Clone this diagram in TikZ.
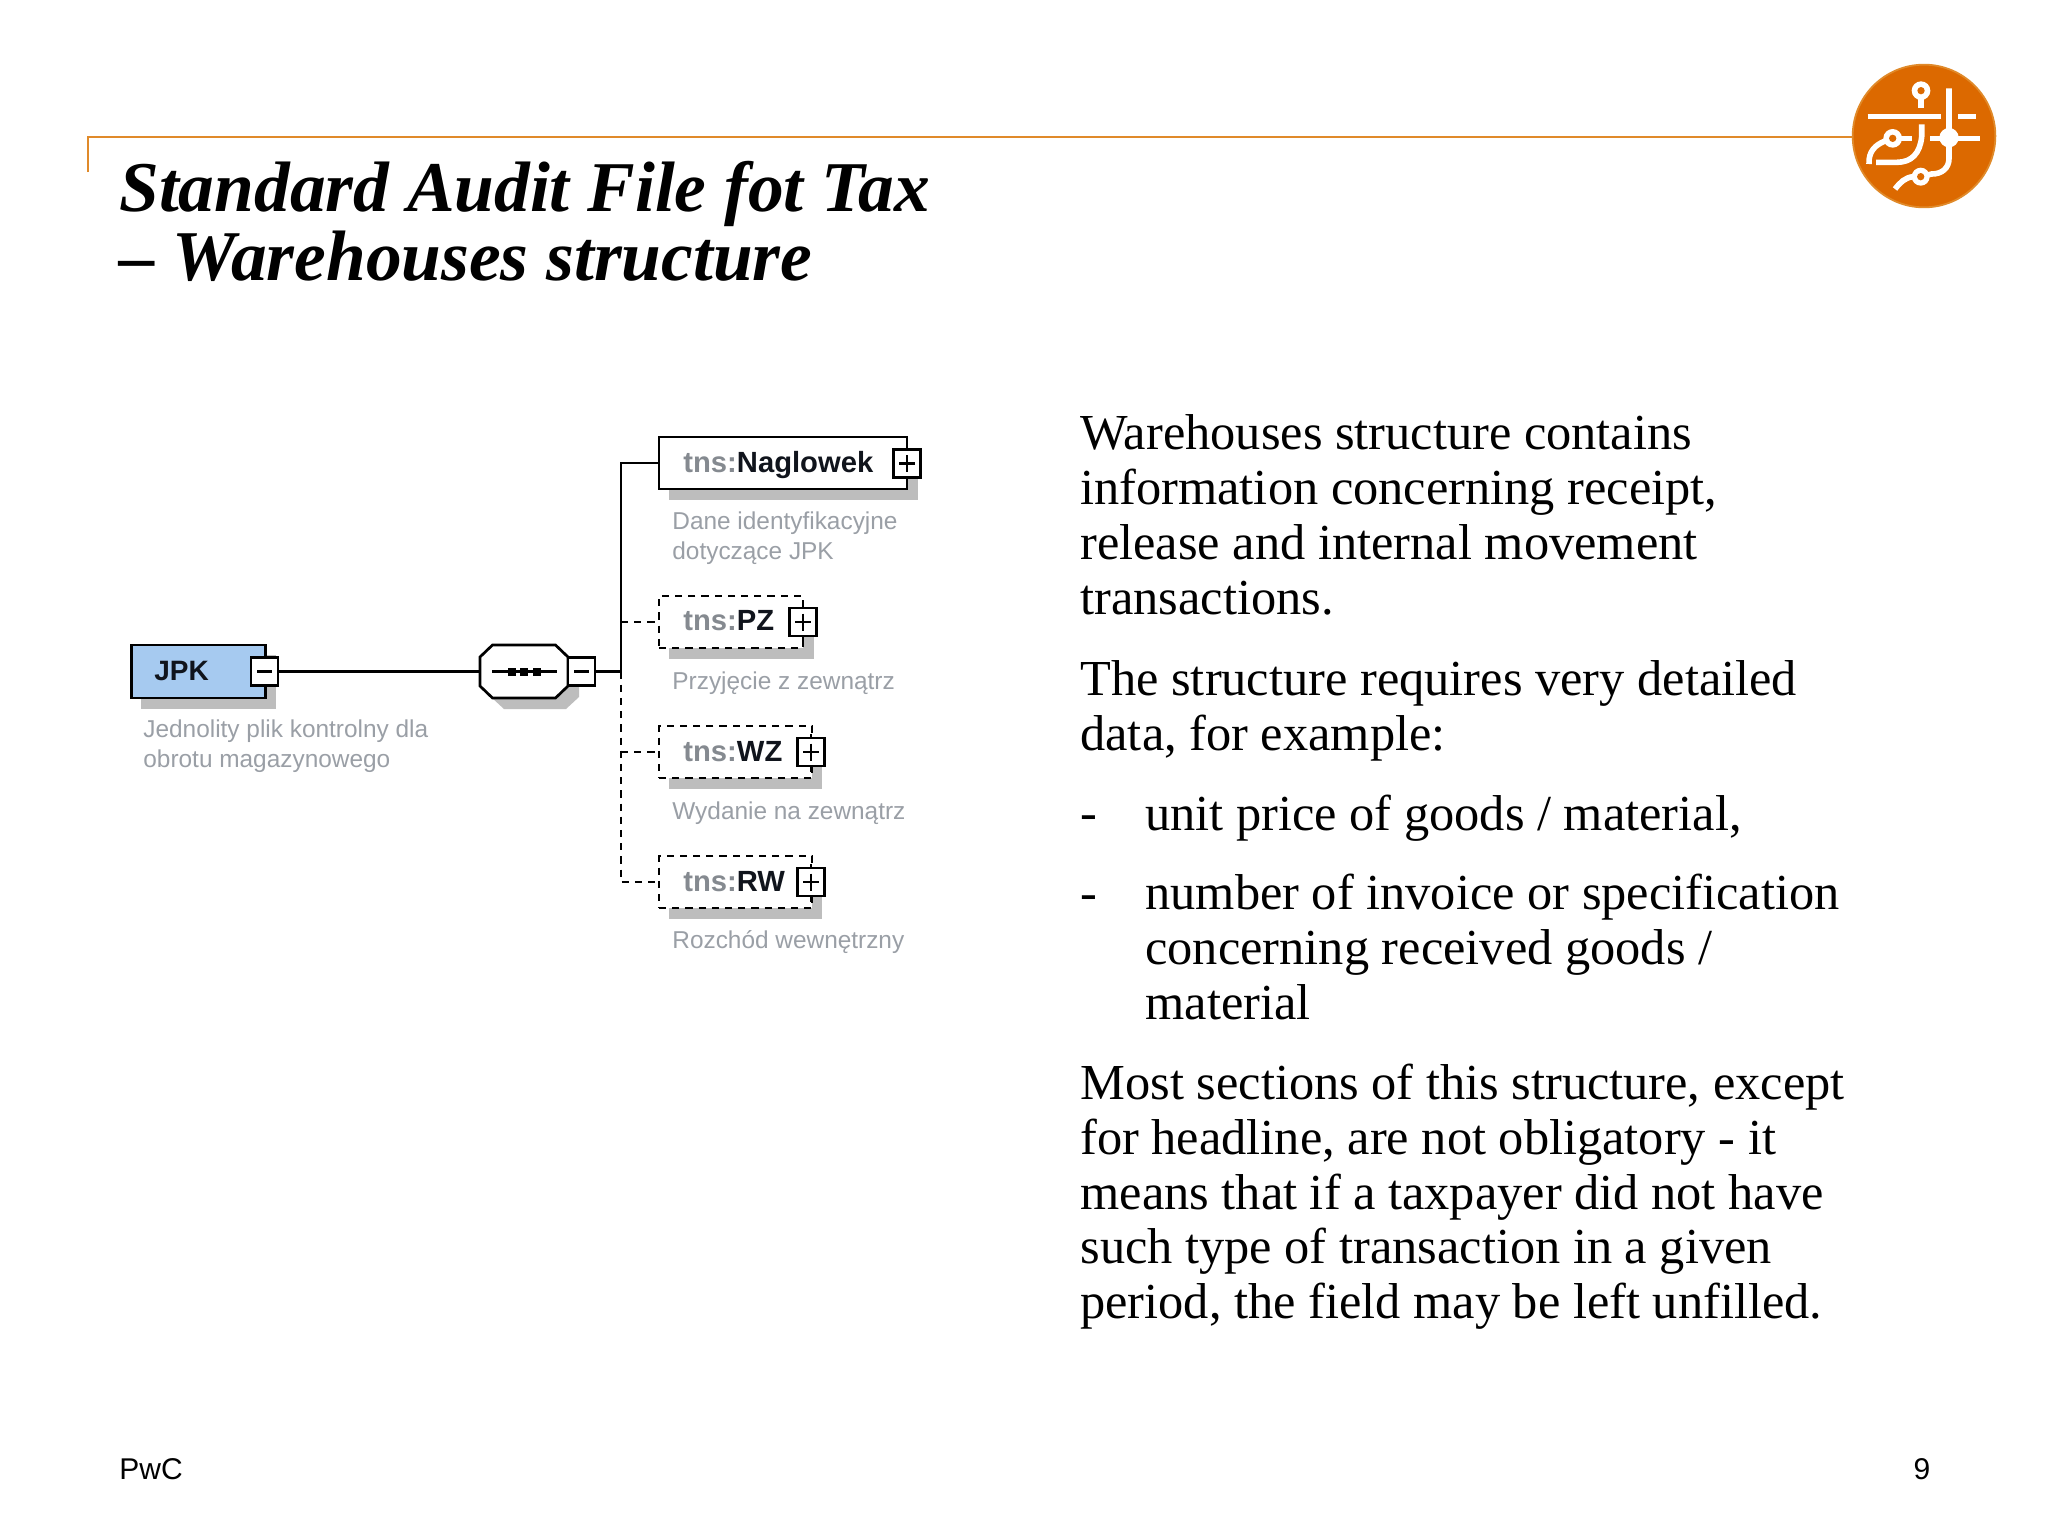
\documentclass[tikz,border=0pt]{standalone}
\usepackage{fontspec}
\setmainfont{Liberation Serif}
\newfontfamily\sansf{Liberation Sans}
\definecolor{pwcorange}{HTML}{DC6900}
\definecolor{ruleorange}{HTML}{E08A2A}
\definecolor{shadowgray}{HTML}{BDBDBD}
\definecolor{descgray}{HTML}{9A9FA6}
\definecolor{prefixgray}{HTML}{858A90}
\definecolor{namedark}{HTML}{10141C}
\definecolor{jpkblue}{HTML}{A6CAF0}
\tikzset{
  x=0.5pt,y=-0.5pt,
  elsolid/.style={draw=black,fill=white,line width=1.35pt,rectangle,inner sep=0pt,outer sep=0pt},
  eldash/.style={draw=black,fill=white,line width=1.35pt,dash pattern=on 3.6pt off 3pt,rectangle,inner sep=0pt,outer sep=0pt},
  togglebox/.style={draw=black,fill=white,line width=1.2pt,rectangle,minimum width=13.5pt,minimum height=14pt,inner sep=0pt,outer sep=0pt},
  conn/.style={draw=black,line width=1.3pt},
  conndash/.style={draw=black,line width=1.3pt,dash pattern=on 3.6pt off 3pt},
  togglemark/.style={draw=black,line width=1.05pt},
  elname/.style={font=\sansf\fontsize{14.6}{16}\selectfont\bfseries,color=namedark,inner sep=0pt,anchor=west},
  desc/.style={font=\sansf\fontsize{12.2}{15}\selectfont,color=descgray,inner sep=0pt,anchor=north west,align=left},
  bodytext/.style={font=\fontsize{25.2}{27.4}\selectfont,color=black,inner sep=0pt,anchor=north west,align=left},
  titletext/.style={font=\fontsize{35.7}{34.6}\selectfont\bfseries\itshape,color=black,inner sep=0pt,anchor=north west,align=left},
  foot/.style={font=\sansf\fontsize{15}{18}\selectfont,color=black,inner sep=0pt},
  logoline/.style={draw=white,line width=2.8pt},
}
\begin{document}
\begin{tikzpicture}
\useasboundingbox (0,0) rectangle (2048,1536);
\fill[white] (0,0) rectangle (2048,1536);

% header rule
\coordinate (ruleend) at (88,172);
\coordinate (rulecorner) at (88,137);
\coordinate (rulelogo) at (1860,137);
\draw[ruleorange,line width=1.1pt] (ruleend) -- (rulecorner) -- (rulelogo);

% title
\node[titletext] (title) at (119,161) {Standard Audit File fot Tax\\– Warehouses structure};

% logo
\begin{scope}[shift={(1800,40)},x=0.16667pt,y=-0.16667pt]
  \filldraw[fill=pwcorange,draw=ruleorange,line width=0.9pt] (372,288) circle[radius=214];
  \draw[logoline] (363,152) -- (363,205);
  \fill[white] (363,152) circle[radius=28];
  \fill[pwcorange] (363,152) circle[radius=11];
  \draw[logoline] (203,230) -- (422,230);
  \draw[logoline] (475,230) -- (527,230);
  \draw[logoline] (447,145) -- (447,355) .. controls (447,385) and (425,402) .. (395,402) -- (362,410);
  \draw[logoline] (390,295) -- (540,295);
  \fill[white] (447,293) circle[radius=29];
  \fill[white] (362,410) circle[radius=27];
  \fill[pwcorange] (362,410) circle[radius=11];
  \draw[logoline] (340,410) .. controls (315,412) and (300,428) .. (285,447);
  \draw[logoline] (278,295) -- (337,295);
  \fill[white] (278,295) circle[radius=28];
  \fill[pwcorange] (278,295) circle[radius=11];
  \draw[logoline] (255,303) .. controls (225,315) and (205,335) .. (207,372);
  \draw[logoline] (365,253) -- (365,290) .. controls (360,340) and (335,367) .. (290,367) -- (228,367);
\end{scope}

% JPK
\fill[shadowgray] (141,655) rectangle (276,709);
\node[elsolid,fill=jpkblue,minimum width=67pt,minimum height=26.5pt] (jpk) at (198.5,671.5) {};
\node[font=\sansf\fontsize{14}{16}\selectfont\bfseries,color=namedark,inner sep=0pt,anchor=west] (jpklabel) at (154,671) {JPK};
\node[togglebox] (jpkt) at (264.5,671.5) {};
\draw[togglemark] (257,671.5) -- (272,671.5);
\node[desc] (jpkd) at (143,719) {Jednolity plik kontrolny dla\\obrotu magazynowego};

% sequence
\fill[shadowgray] (504,656) -- (566,656) -- (579,668) -- (579,697) -- (566,709) -- (504,709) -- (491,697) -- (491,668) -- cycle;
\node[rectangle,inner sep=0pt,outer sep=0pt,minimum width=44pt,minimum height=26.5pt] (seq) at (524,671.5) {};
\draw[elsolid] (492.5,645) -- (555.5,645) -- (568,657) -- (568,686) -- (555.5,698) -- (492.5,698) -- (480,686) -- (480,657) -- cycle;
\coordinate (seql) at (492,671.5);
\coordinate (seqr) at (557,671.5);
\draw[togglemark] (seql) -- (seqr);
\foreach \mx in {512,524,537}{
  \fill[black] (\mx-4,667.5) rectangle (\mx+4,675.5);
}
\node[togglebox] (seqt) at (581.5,671.5) {};
\draw[togglemark] (574,671.5) -- (589,671.5);
\draw[conn] (jpkt.east) -- (seq.west);
\coordinate (trunk) at (621,671.5);
\draw[conn] (seqt.east) -- (trunk);

% Naglowek
\fill[shadowgray] (669,448) rectangle (918,500);
\node[elsolid,minimum width=124pt,minimum height=26pt] (nag) at (783,463) {};
\node[togglebox] (nagt) at (907,463.5) {};
\draw[togglemark] (899,463.5) -- (915,463.5);
\draw[togglemark] (907,455) -- (907,472);
\node[elname] (nagl) at (683,465) {\textcolor{prefixgray}{tns:}Naglowek};
\node[desc] (nagd) at (672,511) {Dane identyfikacyjne\\dotyczące JPK};

% PZ
\fill[shadowgray] (669,607) rectangle (814,659);
\node[eldash,minimum width=72pt,minimum height=26pt] (pz) at (731,622) {};
\node[togglebox] (pzt) at (803,622) {};
\draw[togglemark] (795,622) -- (811,622);
\draw[togglemark] (803,613.5) -- (803,630.5);
\draw[black,line width=1.2pt] (803,604) -- (803,608) (803,636) -- (803,642);
\node[elname] (pzl) at (683,621) {\textcolor{prefixgray}{tns:}PZ};
\node[desc] (pzd) at (672,671) {Przyjęcie z zewnątrz};

% WZ
\fill[shadowgray] (669,737) rectangle (822,789);
\node[eldash,minimum width=76.5pt,minimum height=26pt] (wz) at (735.5,752) {};
\node[togglebox] (wzt) at (811,752) {};
\draw[togglemark] (803,752) -- (819,752);
\draw[togglemark] (811,743.5) -- (811,760.5);
\draw[black,line width=1.2pt] (811,734) -- (811,738) (811,766) -- (811,772);
\node[elname] (wzl) at (683,752) {\textcolor{prefixgray}{tns:}WZ};
\node[desc] (wzd) at (672,801) {Wydanie na zewnątrz};

% RW
\fill[shadowgray] (669,867) rectangle (822,919);
\node[eldash,minimum width=76.5pt,minimum height=26pt] (rw) at (735.5,882) {};
\node[togglebox] (rwt) at (811,882) {};
\draw[togglemark] (803,882) -- (819,882);
\draw[togglemark] (811,873.5) -- (811,890.5);
\draw[black,line width=1.2pt] (811,864) -- (811,868) (811,896) -- (811,902);
\node[elname] (rwl) at (683,882) {\textcolor{prefixgray}{tns:}RW};
\node[desc] (rwd) at (672,930) {Rozchód wewnętrzny};

% tree connectors
\draw[conn] (trunk) |- (nag.west);
\draw[conndash] (trunk) |- (rw.west);
\draw[conndash] (trunk |- pz.west) -- (pz.west);
\draw[conndash] (trunk |- wz.west) -- (wz.west);

% body text
\node[bodytext] (p1) at (1080,414.5) {Warehouses structure contains\\information concerning receipt,\\release and internal movement\\transactions.};
\node[bodytext] (p2) at (1080,660.5) {The structure requires very detailed\\data, for example:};
\node[bodytext] (d1) at (1080,794.5) {\vphantom{l}-};
\node[bodytext] (i1) at (1145,794.5) {unit price of goods / material,};
\node[bodytext] (d2) at (1080,874) {\vphantom{l}-};
\node[bodytext] (i2) at (1145,874) {number of invoice or specification\\concerning received goods /\\material};
\node[bodytext] (p3) at (1080,1063.5) {Most sections of this structure, except\\for headline, are not obligatory - it\\means that if a taxpayer did not have\\such type of transaction in a given\\period, the field may be left unfilled.};

% footer
\node[foot,anchor=west] (pwc) at (119,1469) {PwC};
\node[foot] (pageno) at (1922,1469) {9};
\end{tikzpicture}
\end{document}
